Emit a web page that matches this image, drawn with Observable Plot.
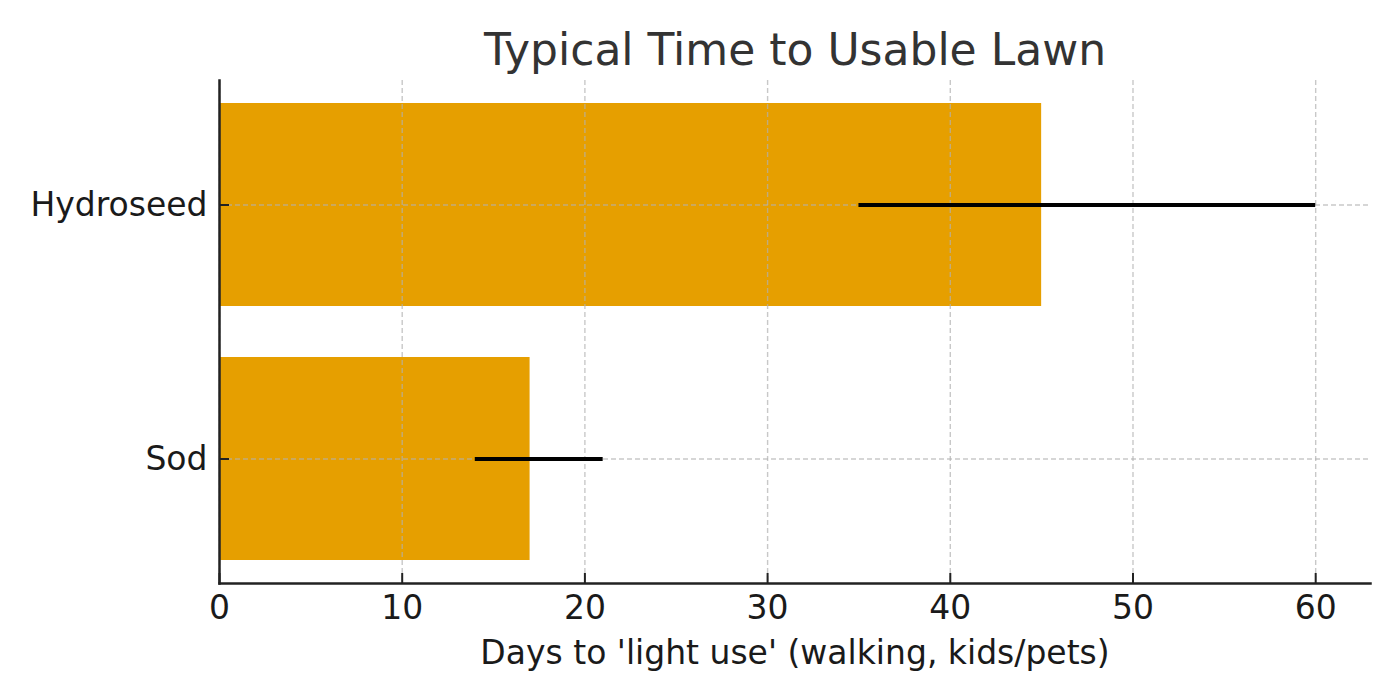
<!DOCTYPE html>
<html><head><meta charset="utf-8">
<script src="https://cdn.jsdelivr.net/npm/d3@7"></script>
<script src="https://cdn.jsdelivr.net/npm/@observablehq/plot@0.6"></script>
<style>body{margin:0;background:#fff;}</style>
</head><body><div id="chart"></div>
<script>
const methods = ["Hydroseed", "Sod"];
const typicalDays = [45, 17];
const lowDays = [35, 14];
const highDays = [60, 21];
const xTicks = [0, 10, 20, 30, 40, 50, 60];
const title = "Typical Time to Usable Lawn";
const xLabel = "Days to 'light use' (walking, kids/pets)";

const data = methods.map((m, i) => ({method: m, days: typicalDays[i], lo: lowDays[i], hi: highDays[i]}));

const W = 1400, H = 700, mL = 219, mR = 30, mT = 80, mB = 117;
const frameW = W - mL - mR, frameH = H - mT - mB;

const chart = Plot.plot({
  width: W, height: H,
  marginLeft: mL, marginRight: mR, marginTop: mT, marginBottom: mB,
  style: {fontFamily: "'DejaVu Sans', sans-serif", fontSize: "33px", color: "#1a1a1a", background: "#fff"},
  x: {domain: [0, 63], ticks: xTicks, label: null},
  y: {domain: methods, paddingInner: 0.2, paddingOuter: 0.09, label: null},
  marks: [
    Plot.barX(data, {x: "days", y: "method", fill: "#E69F00"}),
    Plot.gridX(xTicks, {stroke: "#b0b0b0", strokeOpacity: 0.7, strokeWidth: 1.4, strokeDasharray: "5,3"}),
    Plot.gridY(methods, {stroke: "#b0b0b0", strokeOpacity: 0.7, strokeWidth: 1.4, strokeDasharray: "5,3"}),
    Plot.ruleY(data, {y: "method", x1: "lo", x2: "hi", stroke: "#000", strokeWidth: 4}),
    Plot.ruleX(xTicks, {x: d => d, insetTop: frameH - 10, stroke: "#222", strokeWidth: 2}),
    Plot.ruleY(methods, {y: d => d, insetRight: frameW - 10, stroke: "#222", strokeWidth: 2}),
    Plot.frame({anchor: "left", stroke: "#222", strokeWidth: 2.5}),
    Plot.frame({anchor: "bottom", stroke: "#222", strokeWidth: 2.5}),
    Plot.axisX(xTicks, {tickSize: 0, tickPadding: 12, label: null, fontSize: 33, fill: "#1a1a1a"}),
    Plot.axisY({tickSize: 0, tickPadding: 12, label: null, fontSize: 33, fill: "#1a1a1a"}),
    Plot.text([title], {text: d => d, frameAnchor: "top", dy: -16, lineAnchor: "bottom", fontSize: 44, fill: "#333"}),
    Plot.text([xLabel], {text: d => d, frameAnchor: "bottom", dy: 80, lineAnchor: "bottom", fontSize: 33, fill: "#1a1a1a"})
  ]
});
document.getElementById("chart").append(chart);
</script>
</body></html>
